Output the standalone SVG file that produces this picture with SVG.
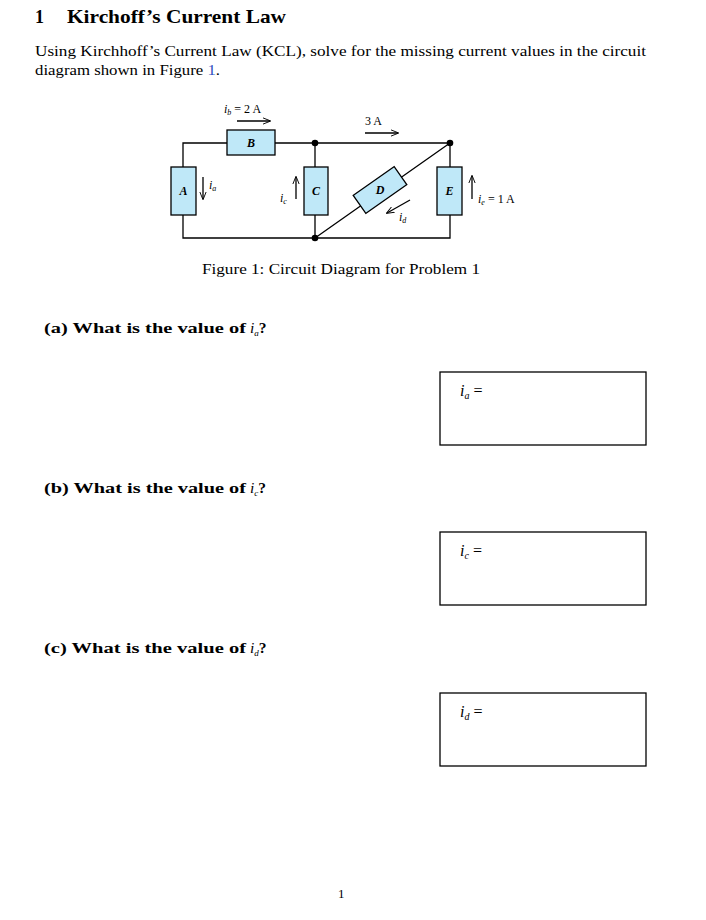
<svg xmlns="http://www.w3.org/2000/svg" width="706" height="920" viewBox="0 0 706 920">
<defs>
<style>
text{font-family:"Liberation Serif","DejaVu Serif",serif;fill:#000}
.w{stroke:#000;stroke-width:1.3;fill:none}
.box{fill:#bfe8f8;stroke:#000;stroke-width:1.3}
.lb{font-size:12px;font-style:italic;text-anchor:middle;font-weight:bold}
.sm{font-size:12px}
.ans{fill:#fff;stroke:#000;stroke-width:1.3}
</style>
<marker id="ar" viewBox="0 0 10 10" refX="9" refY="5" markerWidth="6" markerHeight="6" orient="auto"><path d="M0,1 L10,5 L0,9" fill="none" stroke="#000" stroke-width="1.2"/></marker>
</defs>
<rect width="706" height="920" fill="#fff"/>
<text x="35" y="23" font-size="18" font-weight="bold">1</text>
<text x="67" y="23" font-size="19" font-weight="bold" textLength="219" lengthAdjust="spacingAndGlyphs">Kirchoff’s Current Law</text>
<text x="35" y="56" font-size="15.5" textLength="611" lengthAdjust="spacingAndGlyphs">Using Kirchhoff’s Current Law (KCL), solve for the missing current values in the circuit</text>
<text x="35" y="75" font-size="15.5" textLength="185" lengthAdjust="spacingAndGlyphs">diagram shown in Figure <tspan fill="#3050c0">1</tspan>.</text>
<g id="connectors">
<path class="w" d="M183,167 V143 H227 M275,143 H450 V167 M450,215 V238 H183 V215 M315,143 V167 M315,215 V238 M315,238 L450,143"/>
<circle cx="315" cy="143" r="3.3"/><circle cx="450" cy="143" r="3.3"/><circle cx="315" cy="238" r="3.3"/>
<line class="w" x1="203" y1="177" x2="203" y2="199" marker-end="url(#ar)"/>
<line class="w" x1="296" y1="199" x2="296" y2="177" marker-end="url(#ar)"/>
<line class="w" x1="472" y1="199" x2="472" y2="176" marker-end="url(#ar)"/>
<line class="w" x1="237" y1="121" x2="270" y2="121" marker-end="url(#ar)"/>
<line class="w" x1="365" y1="133" x2="398" y2="133" marker-end="url(#ar)"/>
<line class="w" x1="410" y1="200" x2="387" y2="213" marker-end="url(#ar)"/>
</g>
<g id="A"><rect class="box" x="171" y="167" width="25" height="48"/><text class="lb" x="183.5" y="195">A</text></g>
<g id="B"><rect class="box" x="227" y="130" width="48" height="25"/><text class="lb" x="251" y="147">B</text></g>
<g id="C"><rect class="box" x="304" y="167" width="24" height="48"/><text class="lb" x="316" y="195">C</text></g>
<g id="D"><rect class="box" x="-25" y="-11" width="50" height="22" transform="translate(380,190) rotate(-35)"/><text class="lb" x="380" y="194">D</text></g>
<g id="E"><rect class="box" x="437" y="167" width="25" height="48"/><text class="lb" x="449.5" y="195">E</text></g>
<g id="labels">
<text class="sm" x="224" y="113"><tspan font-style="italic">i</tspan><tspan font-size="8" dy="2" font-style="italic">b</tspan><tspan dy="-2"> = 2 A</tspan></text>
<text class="sm" x="365" y="125">3 A</text>
<text class="sm" x="209" y="189" font-style="italic">i<tspan font-size="8" dy="2">a</tspan></text>
<text class="sm" x="280" y="202" font-style="italic">i<tspan font-size="8" dy="2">c</tspan></text>
<text class="sm" x="399" y="221" font-style="italic">i<tspan font-size="8" dy="2">d</tspan></text>
<text class="sm" x="478" y="203"><tspan font-style="italic">i</tspan><tspan font-size="8" dy="2" font-style="italic">e</tspan><tspan dy="-2"> = 1 A</tspan></text>
</g>
<text x="202" y="274" font-size="15.5" textLength="278" lengthAdjust="spacingAndGlyphs">Figure 1: Circuit Diagram for Problem 1</text>
<text x="44" y="333" font-size="15.5" font-weight="bold" textLength="202" lengthAdjust="spacingAndGlyphs">(a)  What is the value of</text>
<text x="250" y="333" font-size="15.5"><tspan font-style="italic">i</tspan><tspan font-size="9" dy="3" font-style="italic">a</tspan><tspan dy="-3" font-weight="bold">?</tspan></text>
<text x="44" y="493" font-size="15.5" font-weight="bold" textLength="202" lengthAdjust="spacingAndGlyphs">(b)  What is the value of</text>
<text x="250" y="493" font-size="15.5"><tspan font-style="italic">i</tspan><tspan font-size="9" dy="3" font-style="italic">c</tspan><tspan dy="-3" font-weight="bold">?</tspan></text>
<text x="44" y="653" font-size="15.5" font-weight="bold" textLength="202" lengthAdjust="spacingAndGlyphs">(c)  What is the value of</text>
<text x="250" y="653" font-size="15.5"><tspan font-style="italic">i</tspan><tspan font-size="9" dy="3" font-style="italic">d</tspan><tspan dy="-3" font-weight="bold">?</tspan></text>
<g id="boxA"><rect class="ans" x="440" y="372" width="206" height="73"/><text x="460" y="396" font-size="16"><tspan font-style="italic">i</tspan><tspan font-size="10" dy="3" font-style="italic">a</tspan><tspan dy="-3"> =</tspan></text></g>
<g id="boxC"><rect class="ans" x="440" y="532" width="206" height="73"/><text x="460" y="556" font-size="16"><tspan font-style="italic">i</tspan><tspan font-size="10" dy="3" font-style="italic">c</tspan><tspan dy="-3"> =</tspan></text></g>
<g id="boxD"><rect class="ans" x="440" y="693" width="206" height="73"/><text x="460" y="717" font-size="16"><tspan font-style="italic">i</tspan><tspan font-size="10" dy="3" font-style="italic">d</tspan><tspan dy="-3"> =</tspan></text></g>
<text x="338" y="898" font-size="13">1</text>
</svg>
